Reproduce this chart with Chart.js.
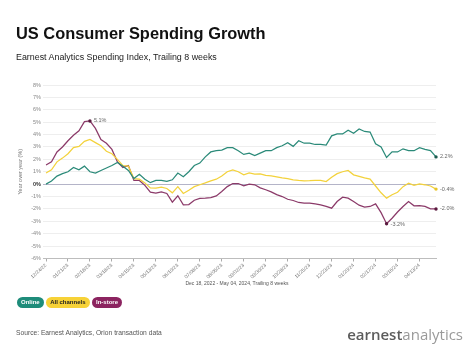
<!DOCTYPE html>
<html>
<head>
<meta charset="utf-8">
<script src="https://cdn.jsdelivr.net/npm/chart.js@4.4.1/dist/chart.umd.min.js"></script>
<style>
  html, body { margin:0; padding:0; background:#fff; }
  body { width:474px; height:355px; position:relative; overflow:hidden; font-family:"Liberation Sans", Arial, sans-serif; }
  #c { position:absolute; left:0; top:0; }
  .t { position:absolute; white-space:nowrap; }
  #title { left:16px; top:25px; font-size:16.4px; line-height:16.4px; font-weight:bold; color:#111; }
  #sub { left:16px; top:52.5px; font-size:8.9px; line-height:8.9px; color:#222; }
  #xcap { left:0; width:474px; text-align:center; top:280.8px; font-size:5px; line-height:5px; color:#555; }
  #legend { position:absolute; left:17px; top:297px; display:flex; gap:2.5px; }
  .pill { height:11px; line-height:11px; border-radius:6px; font-size:6px; font-weight:bold; padding:0 4px; }
  #source { left:16px; top:330px; font-size:6.7px; line-height:6.7px; color:#555; }
  #logo { right:11px; top:326.5px; font-family:"Open Sans", sans-serif; font-size:15px; line-height:15px; }
  #logo .a { color:#5c5c5c; font-weight:600; }
  #logo .b { color:#9a9a9a; font-weight:400; }
</style>
</head>
<body>
<canvas id="c" width="474" height="355"></canvas>
<div class="t" id="title">US Consumer Spending Growth</div>
<div class="t" id="sub">Earnest Analytics Spending Index, Trailing 8 weeks</div>
<div class="t" id="xcap">Dec 18, 2022 - May 04, 2024, Trailing 8 weeks</div>
<div id="legend"></div>
<div class="t" id="source">Source: Earnest Analytics, Orion transaction data</div>
<div class="t" id="logo"><span class="a">earnest</span><span class="b">analytics</span></div>
<script>
const weeks = [
  "12/24/22","12/31/22","01/07/23","01/14/23","01/21/23","01/28/23","02/04/23","02/11/23",
  "02/18/23","02/25/23","03/04/23","03/11/23","03/18/23","03/25/23","04/01/23","04/08/23",
  "04/15/23","04/22/23","04/29/23","05/06/23","05/13/23","05/20/23","05/27/23","06/03/23",
  "06/10/23","06/17/23","06/24/23","07/01/23","07/08/23","07/15/23","07/22/23","07/29/23",
  "08/05/23","08/12/23","08/19/23","08/26/23","09/02/23","09/09/23","09/16/23","09/23/23",
  "09/30/23","10/07/23","10/14/23","10/21/23","10/28/23","11/04/23","11/11/23","11/18/23",
  "11/25/23","12/02/23","12/09/23","12/16/23","12/23/23","12/30/23","01/06/24","01/13/24",
  "01/20/24","01/27/24","02/03/24","02/10/24","02/17/24","02/24/24","03/02/24","03/09/24",
  "03/16/24","03/23/24","03/30/24","04/06/24","04/13/24","04/20/24","04/27/24","05/04/24"
];
const online = [
  0.0,0.25,0.65,0.85,1.0,1.35,1.15,1.45,1.0,0.9,1.1,1.3,1.5,1.75,1.45,1.1,
  0.45,0.8,0.4,0.12,0.3,0.3,0.22,0.35,0.9,0.6,1.0,1.5,1.7,2.2,2.6,2.7,
  2.75,2.95,2.95,2.7,2.4,2.5,2.3,2.5,2.7,2.7,2.95,3.1,3.35,3.05,3.5,3.3,
  3.3,3.2,3.2,3.15,3.9,4.05,4.05,4.35,4.1,4.45,4.25,4.2,3.25,3.0,2.15,2.6,
  2.6,2.85,2.7,2.7,2.95,2.8,2.7,2.2
];
const allChannels = [
  0.9,1.15,1.8,2.1,2.45,2.95,3.05,3.45,3.6,3.35,3.1,2.65,2.45,2.0,1.5,1.45,
  0.45,0.4,0.1,-0.3,-0.32,-0.25,-0.35,-0.7,-0.2,-0.75,-0.5,-0.2,-0.05,0.1,0.27,0.4,
  0.65,1.0,1.15,1.0,0.75,0.9,0.8,0.83,0.7,0.67,0.58,0.5,0.45,0.35,0.3,0.27,
  0.28,0.3,0.3,0.21,0.55,0.85,1.0,1.1,0.75,0.62,0.5,0.4,-0.15,-0.7,-1.13,-0.85,
  -0.65,-0.2,0.08,-0.1,0.02,-0.05,-0.15,-0.4
];
const inStore = [
  1.55,1.8,2.6,3.0,3.5,3.95,4.3,5.05,5.1,4.5,3.6,3.3,2.8,1.8,1.35,1.5,
  0.3,0.3,-0.1,-0.65,-0.72,-0.62,-0.75,-1.45,-0.94,-1.67,-1.65,-1.3,-1.15,-1.12,-1.08,-0.95,
  -0.6,-0.2,0.05,0.05,-0.14,0.0,-0.05,-0.3,-0.45,-0.62,-0.85,-1.0,-1.22,-1.32,-1.48,-1.53,
  -1.53,-1.6,-1.67,-1.8,-1.94,-1.4,-1.05,-1.13,-1.4,-1.7,-1.85,-1.8,-1.59,-2.3,-3.2,-2.75,
  -2.25,-1.8,-1.4,-1.75,-1.73,-1.8,-2.0,-2.0
];
const seriesNames = ["Online","All channels","In-store"];
const lineColors = ["#2b8a79","#f3d23c","#8b3a69"];
const pillColors = ["#1e8c7a","#f7d237","#8c2460"];
const pillText = ["#fff","#222","#fff"];
const yTicksMin = -6, yTicksMax = 8;

// legend pills
const lg = document.getElementById('legend');
seriesNames.forEach((n,i)=>{
  const d = document.createElement('div');
  d.className='pill'; d.textContent=n;
  d.style.background=pillColors[i]; d.style.color=pillText[i];
  lg.appendChild(d);
});

const FAM = '"Liberation Sans", Arial, sans-serif';
// annotation marks: [dataset, index, dotColor, dx, dy]
const marks = [
  [2, 8, "#5a1a3e", 4, 0],
  [2, 62, "#5a1a3e", 4, 1],
  [0, 71, "#1d5c50", 4, 0],
  [1, 71, "#e8c52a", 4, 0],
  [2, 71, "#5a1a3e", 4, 0]
];
const annot = {
  id:'annot',
  afterDatasetsDraw(chart){
    const ctx = chart.ctx, xs = chart.scales.x, ys = chart.scales.y;
    ctx.save();
    marks.forEach(([ds,i,dot,dx,dy])=>{
      const v = chart.data.datasets[ds].data[i];
      const px = xs.getPixelForValue(i), py = ys.getPixelForValue(v);
      ctx.fillStyle = dot;
      ctx.beginPath(); ctx.arc(px,py,1.7,0,Math.PI*2); ctx.fill();
      ctx.fillStyle = '#666';
      ctx.font = '5.5px ' + FAM;
      ctx.textBaseline = 'middle';
      ctx.fillText(v.toFixed(1)+'%', px+dx, py+dy);
    });
    ctx.restore();
  }
};

new Chart(document.getElementById('c'), {
  type:'line',
  data:{
    labels: weeks,
    datasets:[
      {label:seriesNames[0], data:online, borderColor:lineColors[0]},
      {label:seriesNames[1], data:allChannels, borderColor:lineColors[1]},
      {label:seriesNames[2], data:inStore, borderColor:lineColors[2]}
    ]
  },
  options:{
    responsive:false, animation:false,
    layout:{padding:{top:85,right:38,left:0,bottom:0}},
    plugins:{legend:{display:false}, tooltip:{enabled:false}},
    elements:{point:{radius:0}, line:{borderWidth:1.25, tension:0, fill:false}},
    scales:{
      x:{
        afterBuildTicks(s){ s.ticks = s.ticks.filter((t,i)=>i%4===0); },
        afterFit(s){ s.height = 96.5; },
        grid:{drawOnChartArea:false, drawTicks:true, tickLength:3, color:'#aaa'},
        border:{display:true, color:'#bdbdbd'},
        ticks:{autoSkip:false, maxRotation:42, minRotation:42, padding:1, color:'#777', font:{size:5, family:FAM}}
      },
      y:{
        min:yTicksMin, max:yTicksMax,
        afterFit(s){ s.width = 46; },
        border:{display:false},
        grid:{
          tickLength:3,
          color:(c)=> c.tick && c.tick.value===0 ? '#b4b4c8' : (c.tick && c.tick.value===yTicksMin ? '#bdbdbd' : '#eeeeee'),
          lineWidth:1
        },
        ticks:{
          stepSize:1, padding:2, color:(c)=> c.tick && c.tick.value===0 ? '#333' : '#888',
          font:(c)=>({size:5.5, family:FAM, weight: c.tick && c.tick.value===0 ? 'bold':'normal'}),
          callback:(v)=> v + '%'
        },
        title:{display:true, text:'Year over year (%)', color:'#777', font:{size:5.5, family:FAM}, padding:{top:17, bottom:0}}
      }
    }
  },
  plugins:[annot]
});
</script>
</body>
</html>
